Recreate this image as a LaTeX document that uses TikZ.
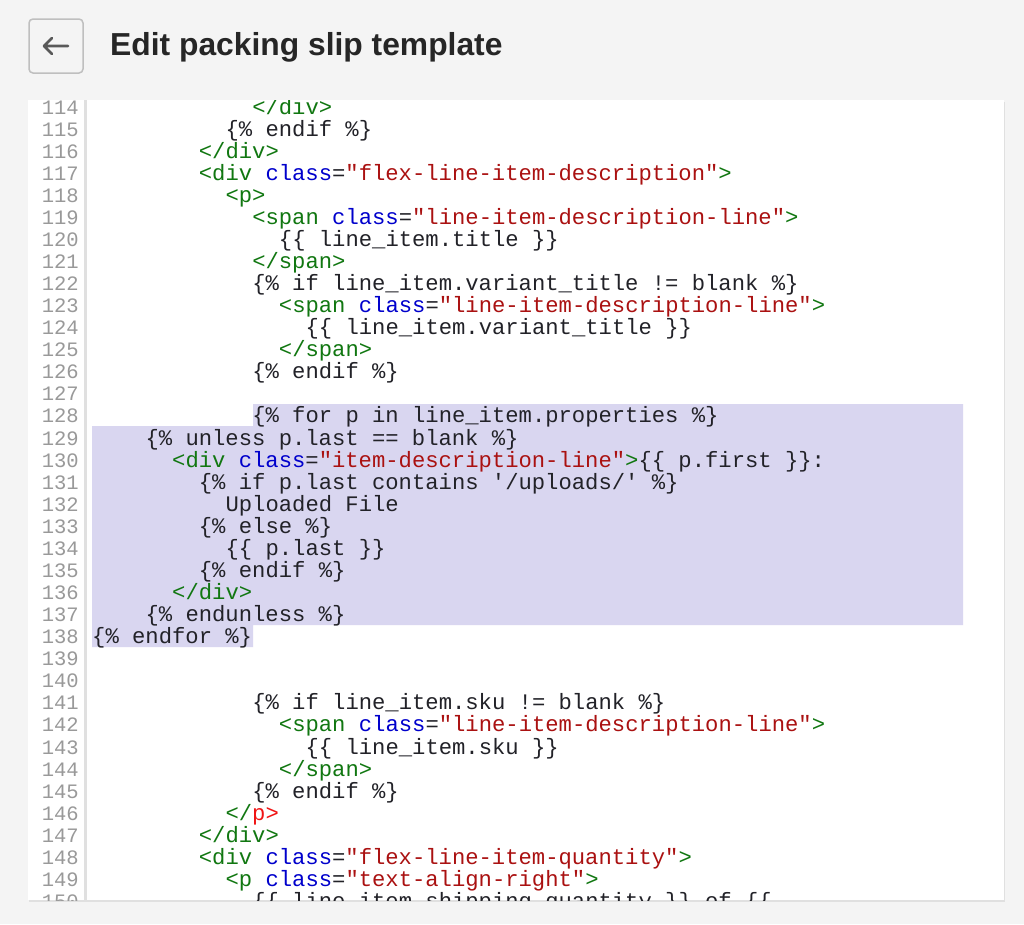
\documentclass[tikz,border=0pt]{standalone}
\usepackage{fontspec}
\setmainfont{Liberation Sans}
\setsansfont{Liberation Sans}
\setmonofont{Liberation Mono}
\definecolor{pagebg}{RGB}{244,244,244}
\definecolor{tagc}{RGB}{17,119,17}
\definecolor{attrc}{RGB}{0,0,204}
\definecolor{strc}{RGB}{170,17,17}
\definecolor{badc}{RGB}{240,20,20}
\definecolor{liqc}{RGB}{34,34,40}
\definecolor{numc}{RGB}{153,153,153}
\definecolor{selc}{RGB}{217,214,240}
\newcommand{\tg}[1]{\textcolor{tagc}{#1}}
\newcommand{\at}[1]{\textcolor{attrc}{#1}}
\newcommand{\st}[1]{\textcolor{strc}{#1}}
\newcommand{\bd}[1]{\textcolor{badc}{#1}}
\newcommand{\cl}[3]{% number, indent, content
  \node[num] (n#1) at (79,{114+(#1-114)*22.07}) {#1};
  \node[code] (l#1) at ({92+#2*13.34},{114+(#1-114)*22.07}) {#3};}
\begin{document}
\begin{tikzpicture}[x=1pt,y=-1pt,
  num/.style={anchor=base east,inner sep=0,font=\fontsize{20.5}{24}\ttfamily,text=numc},
  code/.style={anchor=base west,inner sep=0,font=\fontsize{22.2}{26}\ttfamily,text=liqc}]
  % background
  \fill[pagebg] (0,0) rectangle (1024,924);
  \useasboundingbox (0,0) rectangle (1024,924);
  % header
  \draw[rounded corners=4,draw=black!25,line width=1.5,fill=pagebg] (29,19) rectangle (83,73);
  \coordinate (arrL) at (44,46);
  \coordinate (arrR) at (68,46);
  \draw[black!65,line width=2.6,line cap=round,line join=round] (arrR) -- (arrL) ++(8,-8) -- (arrL) -- ++(8,8);
  \node[anchor=west,font=\fontsize{31.8}{36}\sffamily\bfseries,text=black!85,inner sep=0] (title) at (110,47) {Edit packing slip template};
  % editor panel
  \fill[black!12] (29,102) rectangle (1005,902);
  \fill[white] (28,100) rectangle (1004,900);
  \draw[black!12,line width=3] (85,100) -- (85,900);
  \fill[selc] (253,404) rectangle (963,426) (92,426) rectangle (963,625) (92,625) rectangle (253,647);
  \begin{scope}
    \clip (28,100) rectangle (1004,900);
    \cl{114}{12}{\tg{</div>}}
    \cl{115}{10}{\{\% endif \%\}}
    \cl{116}{8}{\tg{</div>}}
    \cl{117}{8}{\tg{<div} \at{class}=\st{"flex-line-item-description"}\tg{>}}
    \cl{118}{10}{\tg{<p>}}
    \cl{119}{12}{\tg{<span} \at{class}=\st{"line-item-description-line"}\tg{>}}
    \cl{120}{14}{\{\{ line\_item.title \}\}}
    \cl{121}{12}{\tg{</span>}}
    \cl{122}{12}{\{\% if line\_item.variant\_title != blank \%\}}
    \cl{123}{14}{\tg{<span} \at{class}=\st{"line-item-description-line"}\tg{>}}
    \cl{124}{16}{\{\{ line\_item.variant\_title \}\}}
    \cl{125}{14}{\tg{</span>}}
    \cl{126}{12}{\{\% endif \%\}}
    \cl{127}{0}{}
    \cl{128}{12}{\{\% for p in line\_item.properties \%\}}
    \cl{129}{4}{\{\% unless p.last == blank \%\}}
    \cl{130}{6}{\tg{<div} \at{class}=\st{"item-description-line"}\tg{>}\{\{ p.first \}\}:}
    \cl{131}{8}{\{\% if p.last contains '/uploads/' \%\}}
    \cl{132}{10}{Uploaded File}
    \cl{133}{8}{\{\% else \%\}}
    \cl{134}{10}{\{\{ p.last \}\}}
    \cl{135}{8}{\{\% endif \%\}}
    \cl{136}{6}{\tg{</div>}}
    \cl{137}{4}{\{\% endunless \%\}}
    \cl{138}{0}{\{\% endfor \%\}}
    \cl{139}{0}{}
    \cl{140}{0}{}
    \cl{141}{12}{\{\% if line\_item.sku != blank \%\}}
    \cl{142}{14}{\tg{<span} \at{class}=\st{"line-item-description-line"}\tg{>}}
    \cl{143}{16}{\{\{ line\_item.sku \}\}}
    \cl{144}{14}{\tg{</span>}}
    \cl{145}{12}{\{\% endif \%\}}
    \cl{146}{10}{\tg{</}\bd{p>}}
    \cl{147}{8}{\tg{</div>}}
    \cl{148}{8}{\tg{<div} \at{class}=\st{"flex-line-item-quantity"}\tg{>}}
    \cl{149}{10}{\tg{<p} \at{class}=\st{"text-align-right"}\tg{>}}
    \cl{150}{12}{\{\{ line\_item.shipping\_quantity \}\} of \{\{}
  \end{scope}
\end{tikzpicture}
\end{document}
